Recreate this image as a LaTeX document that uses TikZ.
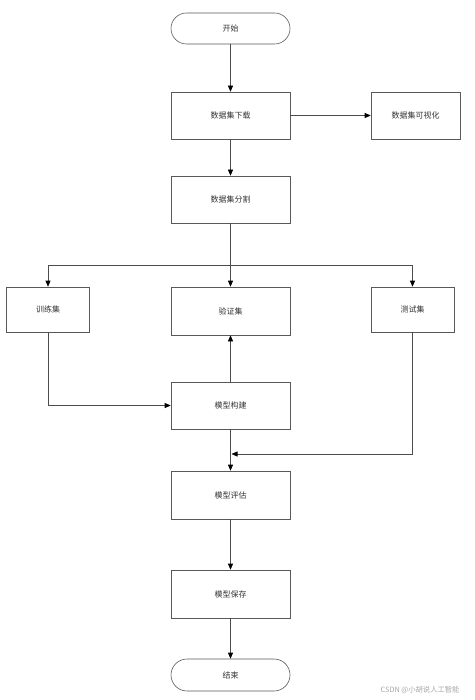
\documentclass[tikz,border=0pt]{standalone}
\usepackage{fontspec}
\newfontfamily\cjk{Noto Sans CJK SC}
\usetikzlibrary{arrows.meta}
\begin{document}
\begin{tikzpicture}[x=1pt,y=-1pt,
  every node/.style={font=\cjk\fontsize{8}{9}\selectfont, text=black!80},
  box/.style={draw=black!65, line width=0.6pt, minimum width=119pt, minimum height=47pt, inner sep=0pt},
  sbox/.style={draw=black!65, line width=0.6pt, minimum width=83pt, minimum height=45pt, inner sep=0pt},
  term/.style={draw=black!65, line width=0.6pt, minimum width=119pt, minimum height=31pt, inner sep=0pt, rounded corners=15.5pt},
  conn/.style={draw=black!70, line width=0.6pt, -{Triangle[length=6pt,width=5pt,color=black]}},
  plain/.style={draw=black!70, line width=0.6pt}]
\useasboundingbox (0,0) rectangle (474,700);
\node[term] (start) at (230.5,28.5) {开始};
\node[box] (down) at (230.5,115.5) {数据集下载};
\node[box, minimum width=89pt] (vis) at (415.5,115.5) {数据集可视化};
\node[box] (split) at (230.5,199.5) {数据集分割};
\node[sbox] (train) at (48,309.5) {训练集};
\node[box, minimum height=48pt] (val) at (230.5,311) {验证集};
\node[sbox] (test) at (412.5,309.5) {测试集};
\node[box] (build) at (230.5,405.5) {模型构建};
\node[box, minimum height=48pt] (eval) at (230.5,495) {模型评估};
\node[box, minimum height=48pt] (save) at (230.5,594) {模型保存};
\node[term, minimum height=32pt, rounded corners=16pt] (end) at (230.5,675) {结束};
\node[font=\cjk\fontsize{7.3}{8}\selectfont, text=black!35, anchor=east] (wm) at (463,690) {CSDN @小胡说人工智能};

\coordinate (bl) at (48,265);
\coordinate (br) at (412.5,265);
\coordinate (bc) at (230.5,265);
\coordinate (tc) at (412.5,454);
\coordinate (mc) at (230.5,454);
\coordinate (tl) at (48,405.5);

\draw[conn] (start) -- (down);
\draw[conn] (down) -- (vis);
\draw[conn] (down) -- (split);
\draw[conn] (split.south) -- (val.north);
\draw[conn] (bl) -- (train.north);
\draw[conn] (br) -- (test.north);
\draw[plain] (bl) -- (br);
\draw[plain] (train.south) -- (tl);
\draw[conn] (tl) -- (build.west);
\draw[conn] (build.north) -- (val.south);
\draw[conn] (build.south) -- (eval.north);
\draw[plain] (test.south) -- (tc);
\draw[conn] (tc) -- ([xshift=1pt]mc);
\draw[conn] (eval) -- (save);
\draw[conn] (save) -- (end);
\end{tikzpicture}
\end{document}
